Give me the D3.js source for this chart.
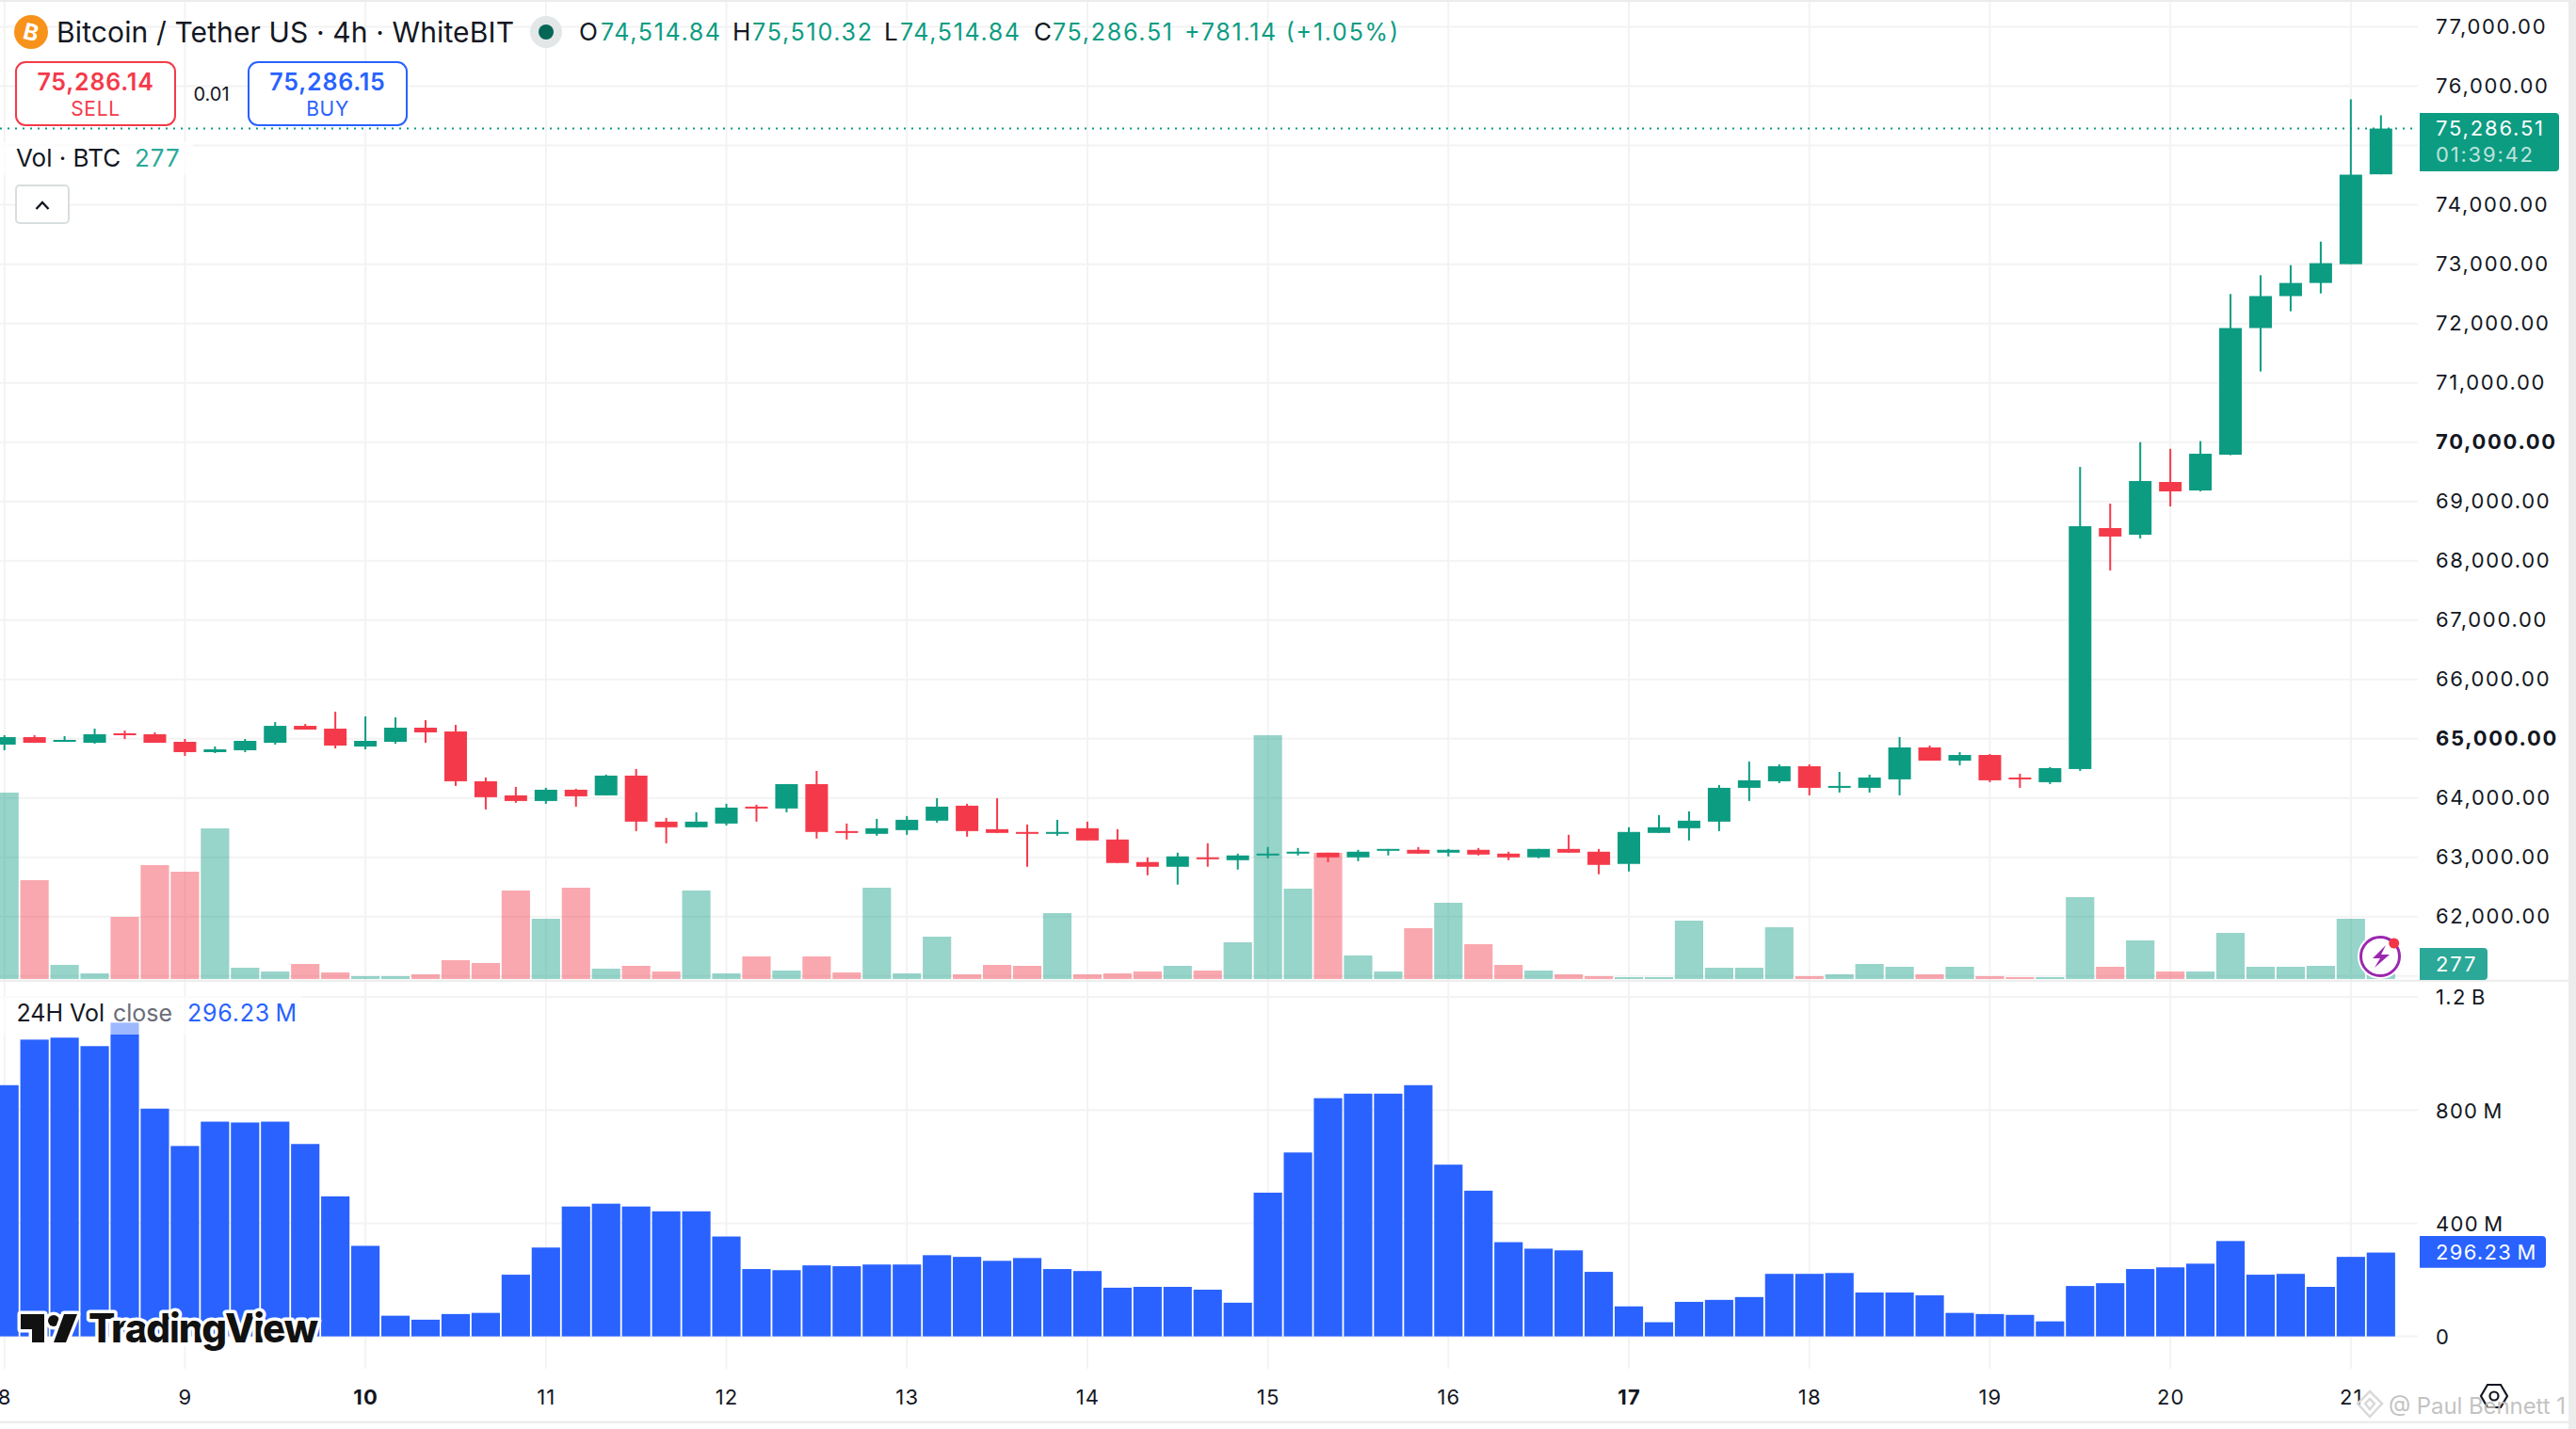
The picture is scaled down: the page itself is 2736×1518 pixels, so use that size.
<!DOCTYPE html>
<html>
<head>
<meta charset="utf-8">
<style>
  html, body { margin: 0; padding: 0; background: #fff; }
  svg { display: block; }
  text { font-family: Inter, "Noto Sans", sans-serif; fill: #131722; }
</style>
<script src="https://cdn.jsdelivr.net/npm/d3@7"></script>
</head>
<body>
<div class="canvas"></div>
<script>
// candle values, one per 4h bar
const opens = [64900,65026,64947,64931,65090,65074,64947,64773,64805,64931,65216,65169,64868,64947,65185,65121,64282,64044,63949,64139,
  64044,64377,63601,63506,63569,63854,63823,64234,63442,63395,63458,63617,63870,63474,63427,63395,63490,63300,62920,62840,
  62999,62951,63031,63062,63078,62999,63110,63126,63078,63126,63062,62999,63141,63094,62888,63411,63490,63601,64171,64282,
  64535,64171,64171,64314,64852,64630,64725,64345,64266,64488,68550,68439,69328,69185,69788,71923,72462,72683,73000,74514.84];
const highs = [65058,65058,65042,65169,65137,65106,64995,64868,64995,65280,65248,65454,65375,65359,65312,65232,64345,64187,64171,64155,
  64393,64488,63664,63759,63902,63886,64234,64456,63569,63648,63696,63997,63902,63997,63553,63632,63601,63474,62999,63078,
  63236,63062,63173,63157,63078,63126,63141,63173,63141,63157,63094,63141,63379,63141,63506,63712,63775,64219,64615,64567,
  64567,64440,64393,65026,64884,64773,64741,64409,64520,69582,68963,70000,69887,70017,72496,72813,72983,73380,75780,75510.32];
const lows = [64805,64931,64947,64916,64995,64931,64710,64757,64773,64900,65153,64836,64820,64916,64931,64203,63807,63918,63902,63854,
  64044,63442,63236,63506,63537,63601,63759,63316,63300,63363,63379,63585,63347,63411,62840,63363,63284,62904,62698,62540,
  62840,62793,62983,63031,62920,62935,63031,63062,63015,63031,62951,62983,63078,62714,62761,63411,63284,63442,63949,64250,
  64044,64092,64092,64044,64630,64551,64266,64171,64234,64456,67836,68376,68915,69169,69779,71191,72206,72507,73000,74514.84];
const closes = [65026,64931,64979,65074,65058,64931,64773,64820,64963,65216,65153,64884,64963,65185,65106,64282,64013,63949,64139,64028,
  64377,63601,63506,63601,63838,63823,64234,63427,63411,63490,63632,63854,63442,63411,63395,63427,63284,62904,62840,63015,
  62967,63031,63062,63094,62999,63094,63141,63062,63126,63046,62999,63141,63078,62872,63427,63506,63617,64171,64298,64535,
  64171,64203,64345,64852,64630,64725,64298,64314,64504,68582,68408,69344,69169,69804,71923,72462,72683,73017,74509,75286.51];

// volume in BTC
const volumes = [9108,4830,690,276,3036,5566,5244,7360,552,368,736,322,138,138,230,920,782,4324,2944,4462,
  506,644,368,4324,276,1104,414,1104,322,4462,276,2070,230,690,644,3220,230,276,368,644,
  414,1794,11914,4416,6164,1150,368,2484,3726,1702,690,414,230,138,92,92,2852,552,552,2530,
  138,230,736,598,230,598,138,92,92,4002,598,1886,368,368,2254,598,598,644,2944,277];

// 24h volume in millions of USD
const vol24h = [888,1049,1056,1026,1109,805,673,759,756,759,680,495,320,73,59,79,83,218,314,459,
  469,459,442,442,353,238,234,251,248,254,254,287,281,267,277,238,231,172,175,175,
  165,119,508,650,842,858,858,888,607,515,333,310,304,228,106,50,122,129,139,221,
  221,224,155,155,145,83,79,76,53,178,188,238,244,257,337,218,221,175,281,296.23];

const priceTicks = [62000,63000,64000,65000,66000,67000,68000,69000,70000,71000,72000,73000,74000,76000,77000];
const priceGrid = [61000,62000,63000,64000,65000,66000,67000,68000,69000,70000,71000,72000,73000,74000,75000,76000,77000];
const boldPrices = [65000, 70000];
const volTicks = [0, 400, 800, 1200];
const volTickLabels = ['0', '400\u2009M', '800\u2009M', '1.2\u2009B'];
const dayLabels = ['8','9','10','11','12','13','14','15','16','17','18','19','20','21'];
const boldDays = ['10', '17'];

const green = '#0C9C82';
const red = '#F43A4A';
const blue = '#2962FF';
const gridColor = '#f3f3f3';
const bandColor = '#ececec';

const W = 2736, H = 1518;
const plotRight = 2568, axisX = 2587, cardRight = 2728;

const svg = d3.select('.canvas')
  .append('svg')
  .attr('width', W)
  .attr('height', H);

svg.append('rect').attr('width', W).attr('height', H).attr('fill', '#fff');

// scales
const x = d3.scaleLinear().domain([0, 79]).range([4.7, 2528.8]);
const y = d3.scaleLinear().domain([61000, 77000]).range([1036.7, 28.6]);
const yVol = d3.scaleLinear().domain([0, 12000]).range([1040, 779.1]);
const y24 = d3.scaleLinear().domain([0, 1200]).range([1419.6, 1059]);

const slot = x(1) - x(0);
const barW = slot - 1.8;
const bodyW = 24;
const dayIndex = dayLabels.map((d, i) => i * 6);

// grid
const grid = svg.append('g').attr('stroke', gridColor).attr('stroke-width', 2);
grid.selectAll('.v').data(dayIndex).enter().append('line')
  .attr('x1', d => x(d)).attr('x2', d => x(d))
  .attr('y1', 2).attr('y2', 1454);
grid.selectAll('.h').data(priceGrid).enter().append('line')
  .attr('x1', 0).attr('x2', plotRight)
  .attr('y1', d => y(d)).attr('y2', d => y(d));
grid.selectAll('.h2').data(volTicks).enter().append('line')
  .attr('x1', 0).attr('x2', plotRight)
  .attr('y1', d => y24(d)).attr('y2', d => y24(d));

// volume bars
svg.append('g').selectAll('rect').data(volumes).enter().append('rect')
  .attr('x', (d, i) => x(i) - barW / 2)
  .attr('width', barW)
  .attr('y', d => yVol(d))
  .attr('height', d => yVol(0) - yVol(d))
  .attr('fill', (d, i) => closes[i] >= opens[i] ? '#089981' : '#F23645')
  .attr('fill-opacity', (d, i) => closes[i] >= opens[i] ? 0.42 : 0.43);

// price line
svg.append('line')
  .attr('x1', 0).attr('x2', plotRight)
  .attr('y1', y(75286.51)).attr('y2', y(75286.51))
  .attr('stroke', green).attr('stroke-width', 2).attr('stroke-dasharray', '2 6');

// candles
const candles = svg.append('g').selectAll('g').data(opens).enter().append('g')
  .attr('fill', (d, i) => closes[i] >= d ? green : red);
candles.append('rect')
  .attr('x', (d, i) => x(i) - 1)
  .attr('width', 2)
  .attr('y', (d, i) => y(highs[i]))
  .attr('height', (d, i) => y(lows[i]) - y(highs[i]));
candles.append('rect')
  .attr('x', (d, i) => x(i) - bodyW / 2)
  .attr('width', bodyW)
  .attr('y', (d, i) => y(Math.max(d, closes[i])))
  .attr('height', (d, i) => Math.max(2, Math.abs(y(d) - y(closes[i]))));

// 24h volume bars
svg.append('g').selectAll('rect').data(vol24h).enter().append('rect')
  .attr('x', (d, i) => x(i) - barW / 2)
  .attr('width', barW)
  .attr('y', d => y24(d))
  .attr('height', d => y24(0) - y24(d))
  .attr('fill', blue);

// pane borders
const bands = svg.append('g').attr('fill', bandColor);
bands.append('rect').attr('x', 0).attr('y', 0).attr('width', W).attr('height', 2);
bands.append('rect').attr('x', 0).attr('y', 1040.8).attr('width', cardRight).attr('height', 2);
bands.append('rect').attr('x', 0).attr('y', 1509.5).attr('width', cardRight).attr('height', 2.5);
bands.append('rect').attr('x', cardRight).attr('y', 0).attr('width', W - cardRight).attr('height', H);

// axes
const styleAxis = (g) => {
  g.select('.domain').remove();
  g.selectAll('.tick line').remove();
  g.selectAll('text').attr('x', null).attr('dy', '.36em')
    .style('font-size', '22px').style('letter-spacing', '1.1px');
};

const priceAxis = d3.axisRight(y).tickValues(priceTicks).tickFormat(d3.format(',.2f'));
svg.append('g').attr('transform', `translate(${axisX},-1.5)`).call(priceAxis).call(styleAxis)
  .selectAll('text')
  .attr('x', 0)
  .style('letter-spacing', '1.7px')
  .style('font-weight', d => boldPrices.includes(d) ? 700 : 400);

const volAxis = d3.axisRight(y24).tickValues(volTicks).tickFormat((d, i) => volTickLabels[i]);
svg.append('g').attr('transform', `translate(${axisX},0)`).call(volAxis).call(styleAxis)
  .selectAll('text').attr('x', 0).style('letter-spacing', '1.3px');

const timeAxis = d3.axisBottom(x).tickValues(dayIndex).tickFormat((d, i) => dayLabels[i]);
svg.append('g').attr('transform', 'translate(0,1484)').call(timeAxis).call(styleAxis)
  .selectAll('text')
  .attr('y', 0)
  .style('font-weight', d => boldDays.includes(dayLabels[d / 6]) ? 700 : 400);

// axis labels
const tag = (ty, h, fill, w) => svg.append('path')
  .attr('d', `M2570,${ty}H${2570 + w - 4}a4,4 0 0 1 4,4V${ty + h - 4}a4,4 0 0 1 -4,4H2570Z`)
  .attr('fill', fill);
const label = (tx, ty, str, size, fill, extra) => {
  const t = svg.append('text')
    .attr('x', tx).attr('y', ty).attr('dy', '.36em')
    .style('font-size', size + 'px')
    .style('fill', fill)
    .text(str);
  if (extra) Object.keys(extra).forEach(k => t.style(k, extra[k]));
  return t;
};

tag(120, 62, green, 148);
label(axisX, 135.7, '75,286.51', 22, '#fff', { 'letter-spacing': '1.8px' });
label(axisX, 163.6, '01:39:42', 22, '#fff', { 'letter-spacing': '1.8px', 'opacity': 0.72 });
tag(1007, 34, '#2BA898', 72);
label(axisX, 1024, '277', 22, '#fff', { 'letter-spacing': '1.8px' });
tag(1313, 33.7, blue, 134);
label(axisX, 1329.8, '296.23\u2009M', 22, '#fff', { 'letter-spacing': '1.3px' });

// legend backdrops
svg.append('rect').attr('x', 0).attr('y', 1058).attr('width', 321).attr('height', 41)
  .attr('fill', '#fff').attr('fill-opacity', 0.55);
svg.append('rect').attr('x', 0).attr('y', 150).attr('width', 205).attr('height', 36)
  .attr('fill', '#fff').attr('fill-opacity', 0.7);

// header
svg.append('circle').attr('cx', 33).attr('cy', 34).attr('r', 18).attr('fill', '#F7931A');
label(33, 34, 'B', 24, '#fff', { 'font-weight': 700, 'text-anchor': 'middle' })
  .attr('transform', 'rotate(14 33 34)');
label(60, 34, 'Bitcoin / Tether US \u00b7 4h \u00b7 WhiteBIT', 30, '#131722').attr('textLength', 486);

svg.append('circle').attr('cx', 580).attr('cy', 34).attr('r', 17).attr('fill', '#e3e7e8');
svg.append('circle').attr('cx', 580).attr('cy', 34).attr('r', 8).attr('fill', '#056656');

const ohlcKeys = [['O', 615], ['H', 778], ['L', 939], ['C', 1098]];
const ohlcVals = [['74,514.84', 638, 127], ['75,510.32', 799, 127], ['74,514.84', 956, 127], ['75,286.51', 1118, 127]];
ohlcKeys.forEach(d => label(d[1], 34, d[0], 26, '#131722'));
ohlcVals.forEach(d => label(d[1], 34, d[0], 25, green).attr('textLength', d[2]));
label(1258, 34, '+781.14 (+1.05%)', 25, green).attr('textLength', 227);

// sell / buy buttons
const button = (bx, w, col, price, side) => {
  svg.append('rect').attr('x', bx).attr('y', 66).attr('width', w).attr('height', 67).attr('rx', 10)
    .attr('fill', '#fff').attr('stroke', col).attr('stroke-width', 2);
  label(bx + w / 2, 87, price, 25, col, { 'text-anchor': 'middle', 'font-weight': 600, 'letter-spacing': '.8px' });
  label(bx + w / 2, 115, side, 21, col, { 'text-anchor': 'middle', 'letter-spacing': '.7px' });
};
button(17, 169, red, '75,286.14', 'SELL');
button(264, 168, blue, '75,286.15', 'BUY');
label(224.5, 100, '0.01', 20, '#131722', { 'text-anchor': 'middle' });

// volume legend
label(17, 167.7, 'Vol \u00b7 BTC', 26, '#131722');
label(143, 167.7, '277', 26, '#2BA898', { 'letter-spacing': '1px' });
svg.append('rect').attr('x', 17).attr('y', 197).attr('width', 56).attr('height', 40).attr('rx', 4)
  .attr('fill', '#fff').attr('stroke', '#d8dedf').attr('stroke-width', 2);
svg.append('path').attr('d', 'M38.5,222 L45,215 L51.5,222').attr('fill', 'none')
  .attr('stroke', '#131722').attr('stroke-width', 2.4);

label(17.5, 1076, '24H Vol', 25, '#131722');
label(120, 1076, 'close', 25, '#6a6d78');
label(199, 1076, '296.23\u2009M', 25, blue, { 'letter-spacing': '.8px' });

// tradingview mark
const logo = svg.append('g').attr('fill', '#111').attr('stroke', '#fff').attr('stroke-width', 7)
  .style('paint-order', 'stroke').attr('stroke-linejoin', 'round');
logo.append('path').attr('d', 'M22,1396H47V1426H34V1412H22Z');
logo.append('circle').attr('cx', 57).attr('cy', 1403).attr('r', 6);
logo.append('path').attr('d', 'M68,1396H82L70,1426H57Z');
logo.append('text').attr('x', 94).attr('y', 1426)
  .attr('textLength', 244)
  .style('font-size', '42px').style('font-weight', 800).style('fill', '#111')
  .text('TradingView');

// lightning badge
svg.append('circle').attr('cx', 2528).attr('cy', 1016).attr('r', 24).attr('fill', '#fff');
svg.append('circle').attr('cx', 2528).attr('cy', 1016).attr('r', 20.5)
  .attr('fill', 'none').attr('stroke', '#9C27B0').attr('stroke-width', 3);
svg.append('path').attr('d', 'M2534,1004 L2520,1018 H2528 L2522,1028 L2538,1014 H2529 Z').attr('fill', '#9C27B0');
svg.append('circle').attr('cx', 2542.7).attr('cy', 1002).attr('r', 5.5).attr('fill', '#F23645');

// settings hexagon
svg.append('path').attr('d', 'M2635,1483 L2642,1471 H2656 L2663,1483 L2656,1495 H2642 Z')
  .attr('fill', 'none').attr('stroke', '#131722').attr('stroke-width', 2.2);
svg.append('circle').attr('cx', 2649).attr('cy', 1483).attr('r', 4.5)
  .attr('fill', 'none').attr('stroke', '#131722').attr('stroke-width', 2.2);

// watermark
const mark = svg.append('g').attr('fill', 'none').attr('stroke', '#d9d9d9').attr('stroke-width', 2.5);
mark.append('path').attr('d', 'M2517,1478 L2530,1491 L2517,1505 L2504,1491 Z');
mark.append('path').attr('d', 'M2517,1486 L2522,1491 L2517,1497 L2512,1491 Z');
label(2537, 1493.5, '@ Paul Bennett 1', 24, '#bdbdbd').attr('textLength', 188).style('opacity', 0.9);
</script>
</body>
</html>
